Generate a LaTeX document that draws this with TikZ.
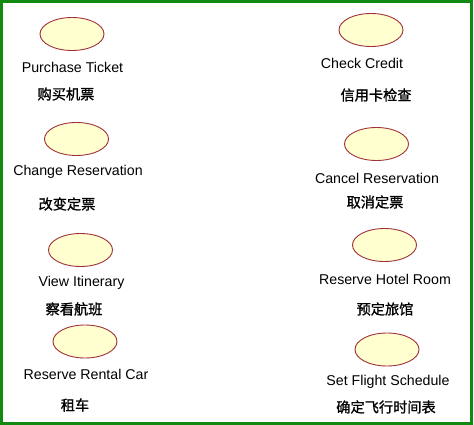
\documentclass[tikz,border=0pt]{standalone}
\usepackage{fontspec}
\usetikzlibrary{shapes.geometric}
\setmainfont{Liberation Sans}
\newfontfamily\cjk[FakeBold=1.2]{Noto Sans CJK SC}
\definecolor{ucfill}{HTML}{FFFFCF}
\definecolor{ucline}{HTML}{A0303A}
\definecolor{frame}{HTML}{128A12}
\begin{document}
\begin{tikzpicture}[x=1pt,y=-1pt,
  usecase/.style={ellipse,draw=ucline,fill=ucfill,line width=0.9pt,minimum width=64pt,minimum height=33pt,inner sep=0pt},
  en/.style={font=\fontsize{14.2}{16}\selectfont,inner sep=0pt,anchor=center},
  zh/.style={font=\cjk\fontsize{14.2}{16}\selectfont,inner sep=0pt,anchor=center}]
\useasboundingbox (0,0) rectangle (474,425);
\fill[white] (0,0) rectangle (474,425);
\draw[frame,line width=3pt] (1.5,1.5) rectangle (471,423);
% left column
\node[usecase] (u1) at (72,34) {};
\node[en] (t1) at (72.5,67) {Purchase Ticket};
\node[zh] (c1) at (66,94) {购买机票};
\node[usecase] (u2) at (76.5,139) {};
\node[en] (t2) at (78,172) {Change Reservation};
\node[zh] (c2) at (67,204) {改变定票};
\node[usecase] (u3) at (80.5,250) {};
\node[en] (t3) at (81.5,283) {View Itinerary};
\node[zh] (c3) at (74,309) {察看航班};
\node[usecase] (u4) at (85,341.5) {};
\node[en] (t4) at (86,374) {Reserve Rental Car};
\node[zh] (c4) at (75,405) {租车};
% right column
\node[usecase] (u5) at (371,30) {};
\node[en] (t5) at (362,63) {Check Credit};
\node[zh] (c5) at (376,95) {信用卡检查};
\node[usecase] (u6) at (376.5,144) {};
\node[en] (t6) at (377,178) {Cancel Reservation};
\node[zh] (c6) at (375,202) {取消定票};
\node[usecase] (u7) at (384.5,245) {};
\node[en] (t7) at (385,279) {Reserve Hotel Room};
\node[zh] (c7) at (385,309) {预定旅馆};
\node[usecase] (u8) at (387,349.5) {};
\node[en] (t8) at (388,382) {Set Flight Schedule};
\node[zh] (c8) at (386,407) {确定飞行时间表};
\end{tikzpicture}
\end{document}
